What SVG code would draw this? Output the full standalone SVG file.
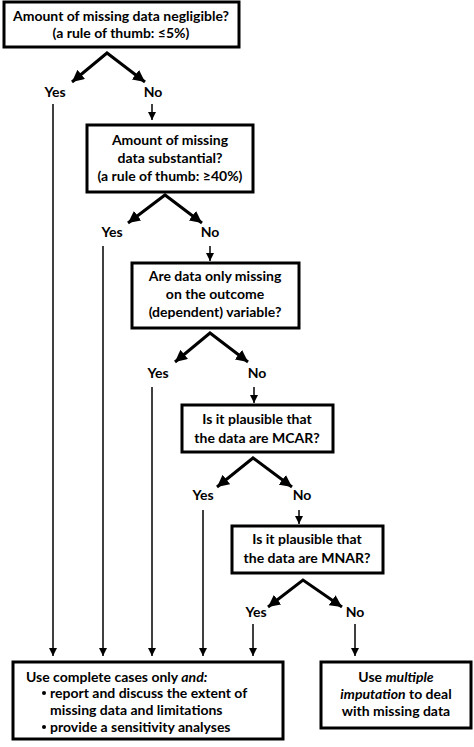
<svg xmlns="http://www.w3.org/2000/svg" width="474" height="747" viewBox="0 0 474 747">
<style>
.box{fill:#fff;stroke:#000;stroke-width:3}
.t{font-family:Lato,"Liberation Sans",sans-serif;font-weight:700;font-size:14px;fill:#000}
.c{text-anchor:middle}
.thick{stroke:#000;stroke-width:3;fill:none}
.thin{stroke:#000;stroke-width:1.5;fill:none}
</style>
<defs>
<marker id="hb" markerUnits="userSpaceOnUse" viewBox="0 0 10 10" refX="10" refY="5" markerWidth="12" markerHeight="12" orient="auto-start-reverse"><path d="M0,0L10,5L0,10z" fill="#000"/></marker>
<marker id="hs" markerUnits="userSpaceOnUse" viewBox="0 0 10 10" refX="10" refY="5" markerWidth="8" markerHeight="8" orient="auto"><path d="M0,0L10,5L0,10z" fill="#000"/></marker>
</defs>
<rect width="474" height="747" fill="#fff"/>
<g id="connectors">
<path class="thick" d="M72,82L107,53L145,82" marker-start="url(#hb)" marker-end="url(#hb)"/>
<path class="thick" d="M128,223L165,195L202,223" marker-start="url(#hb)" marker-end="url(#hb)"/>
<path class="thick" d="M175,362L210,333L248,362" marker-start="url(#hb)" marker-end="url(#hb)"/>
<path class="thick" d="M217,487L253,458L292,487" marker-start="url(#hb)" marker-end="url(#hb)"/>
<path class="thick" d="M268,607L303,580L342,607" marker-start="url(#hb)" marker-end="url(#hb)"/>
<path class="thin" d="M152,104V120" marker-end="url(#hs)"/>
<path class="thin" d="M210,246V261" marker-end="url(#hs)"/>
<path class="thin" d="M254,387V403" marker-end="url(#hs)"/>
<path class="thin" d="M299,510V524" marker-end="url(#hs)"/>
<path class="thin" d="M53,104V656" marker-end="url(#hs)"/>
<path class="thin" d="M103,246V656" marker-end="url(#hs)"/>
<path class="thin" d="M152,387V656" marker-end="url(#hs)"/>
<path class="thin" d="M203,510V656" marker-end="url(#hs)"/>
<path class="thin" d="M253,624V656" marker-end="url(#hs)"/>
<path class="thin" d="M355,624V656" marker-end="url(#hs)"/>
<text class="t c" x="55" y="97">Yes</text>
<text class="t c" x="153" y="97">No</text>
<text class="t c" x="112" y="237">Yes</text>
<text class="t c" x="210" y="237">No</text>
<text class="t c" x="158" y="378">Yes</text>
<text class="t c" x="257" y="378">No</text>
<text class="t c" x="203" y="500">Yes</text>
<text class="t c" x="302" y="500">No</text>
<text class="t c" x="256" y="617">Yes</text>
<text class="t c" x="355" y="617">No</text>
</g>
<g id="n1">
<rect class="box" x="4" y="2" width="235" height="45"/>
<text class="t c" x="121" y="21">Amount of missing data negligible?</text>
<text class="t c" x="121" y="38">(a rule of thumb: ≤5%)</text>
</g>
<g id="n2">
<rect class="box" x="87" y="125" width="166" height="67"/>
<text class="t c" x="170" y="145">Amount of missing</text>
<text class="t c" x="170" y="163">data substantial?</text>
<text class="t c" x="170" y="181">(a rule of thumb: ≥40%)</text>
</g>
<g id="n3">
<rect class="box" x="132" y="263" width="167" height="65"/>
<text class="t c" x="215" y="281">Are data only missing</text>
<text class="t c" x="215" y="299">on the outcome</text>
<text class="t c" x="215" y="317">(dependent) variable?</text>
</g>
<g id="n4">
<rect class="box" x="182" y="405" width="151" height="47"/>
<text class="t c" x="257" y="424">Is it plausible that</text>
<text class="t c" x="257" y="443">the data are MCAR?</text>
</g>
<g id="n5">
<rect class="box" x="232" y="526" width="151" height="47"/>
<text class="t c" x="307" y="544">Is it plausible that</text>
<text class="t c" x="307" y="563">the data are MNAR?</text>
</g>
<g id="n6">
<rect class="box" x="13" y="662" width="270" height="77"/>
<text class="t" x="26" y="682">Use complete cases only <tspan font-style="italic">and:</tspan></text>
<circle cx="44" cy="693" r="2" fill="#000"/>
<text class="t" x="50" y="698">report and discuss the extent of</text>
<text class="t" x="50" y="715">missing data and limitations</text>
<circle cx="44" cy="727" r="2" fill="#000"/>
<text class="t" x="50" y="732">provide a sensitivity analyses</text>
</g>
<g id="n7">
<rect class="box" x="321" y="662" width="150" height="66"/>
<text class="t c" x="396" y="682">Use <tspan font-style="italic">multiple</tspan></text>
<text class="t c" x="396" y="699"><tspan font-style="italic">imputation</tspan> to deal</text>
<text class="t c" x="396" y="716">with missing data</text>
</g>
</svg>
